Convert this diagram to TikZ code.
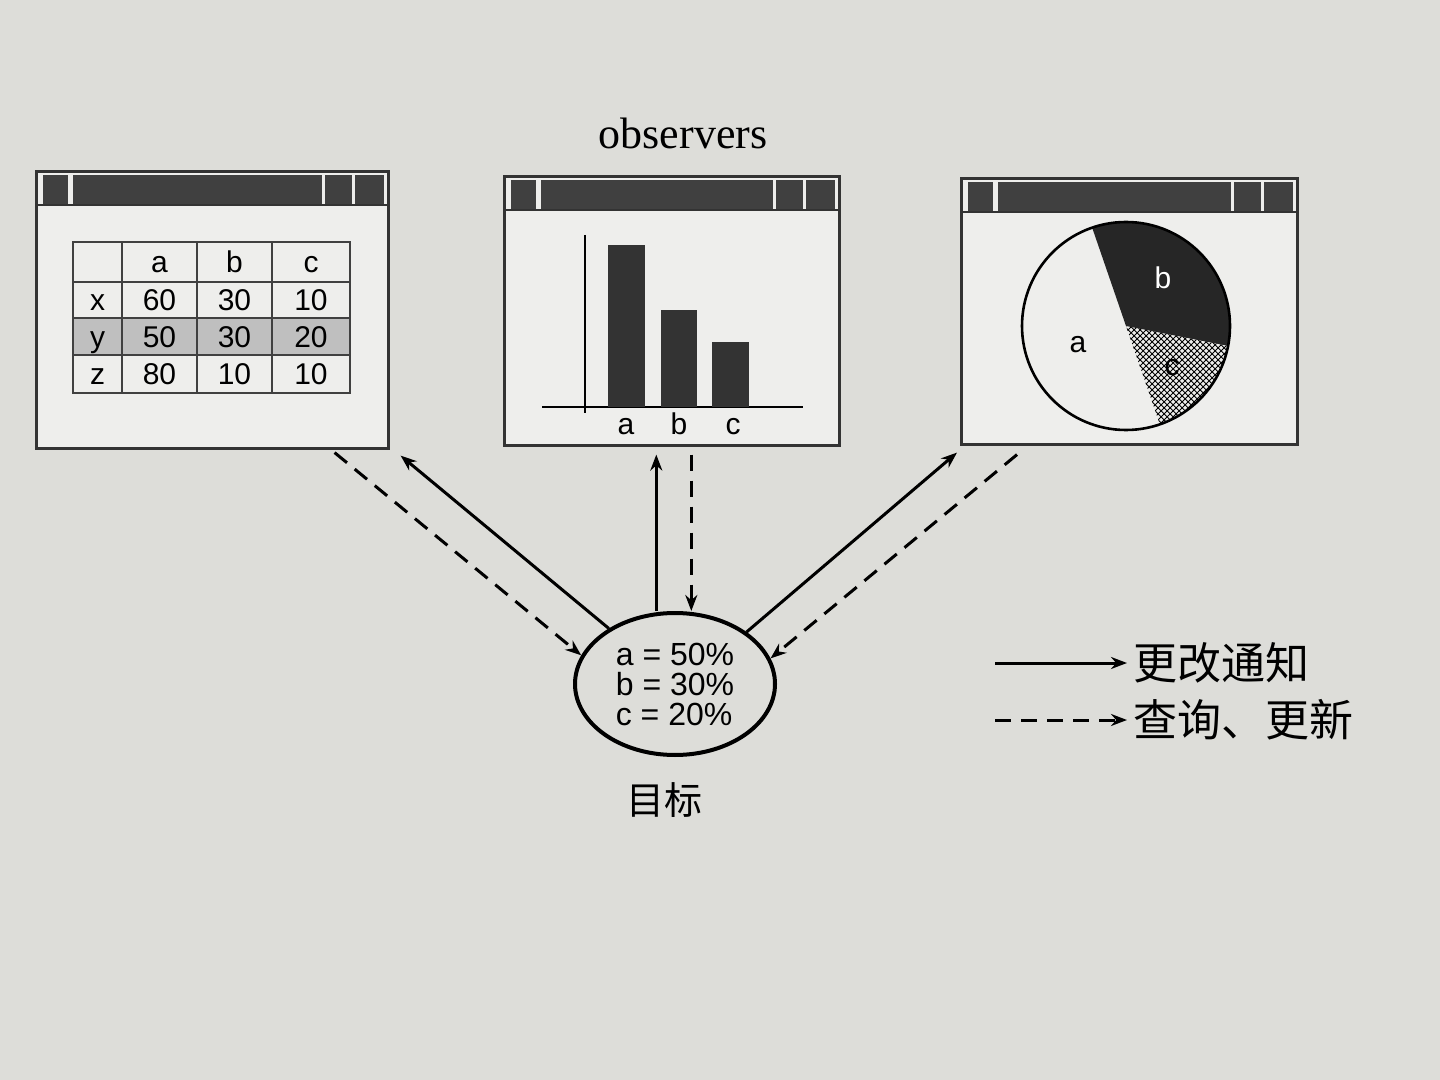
\documentclass[tikz,border=0pt]{standalone}
\usepackage{fontspec}
\setmainfont{Liberation Serif}
\newfontfamily\cjk{Noto Sans CJK SC}
\newfontfamily\winfont{Liberation Sans}
\usetikzlibrary{shapes.geometric, arrows.meta, positioning, patterns, calc}
\definecolor{paper}{RGB}{221,221,217}

\begin{document}
\begin{tikzpicture}[
    x=0.5pt, y=-0.5pt,
    win/.style={rectangle, draw=black!80, line width=1.3pt, fill=white!50!paper, anchor=north west, inner sep=0pt},
    bar/.style={fill=black!75},
    grid/.style={draw=black!75, line width=1pt},
    cell/.style={font=\winfont\fontsize{15}{15}\selectfont, inner sep=0pt, text height=10.8pt, text depth=0pt},
    solidarr/.style={-{Stealth[length=8pt,width=6pt]}, line width=1.5pt},
    dasharr/.style={-{Stealth[length=8pt,width=6pt]}, line width=1.5pt, dash pattern=on 8pt off 5pt},
    legend/.style={font=\cjk\fontsize{22}{22}\selectfont, anchor=west, inner sep=3pt}
]
% page
\fill[paper] (0,0) rectangle (1440,1080);
\useasboundingbox (0,0) rectangle (1440,1080);

% Observer windows
\node[win, minimum width=176pt, minimum height=138.5pt] (tablewin) at (35,170) {};
\node[win, minimum width=167.5pt, minimum height=134.5pt] (barwin) at (503,175) {};
\node[win, minimum width=168pt, minimum height=133pt] (piewin) at (960,177) {};

% Title bars
\foreach \wname/\winw in {tablewin/352, barwin/335, piewin/336} {
  \foreach \a/\b in {8/33, 38/\winw-65, \winw-62/\winw-35, \winw-32/\winw-3}
    \fill[bar] ($(\wname.north west)+(\a,5)$) rectangle ($(\wname.north west)+(\b,35)$);
  \draw[black!80, line width=1.3pt] ($(\wname.north west)+(0,35)$) -- ($(\wname.north east)+(0,35)$);
}

\node[font=\fontsize{22}{22}\selectfont, inner sep=0pt] (obslabel) at (683,133) {observers};

% Table view
\fill[black!25] (73,318) rectangle (350,355);
\draw[grid] (73,242) rectangle (350,393);
\foreach \gx in {122,197,272} \draw[grid] (\gx,242) -- (\gx,393);
\foreach \gy in {282,318,355} \draw[grid] (73,\gy) -- (350,\gy);
\foreach \txt/\cx/\cy [count=\i] in {a/159.5/262, b/234.5/262, c/311/262,
    x/97.5/300, 60/159.5/300, 30/234.5/300, 10/311/300,
    y/97.5/336.5, 50/159.5/336.5, 30/234.5/336.5, 20/311/336.5,
    z/97.5/374, 80/159.5/374, 10/234.5/374, 10/311/374}
  \node[cell] (cell\i) at (\cx,\cy) {\txt};

% Bar chart view
\draw[line width=1pt] (585,235) -- (585,413);
\draw[line width=1pt] (542,407) -- (803,407);
\fill[black!80] (608,245) rectangle (645,407);
\fill[black!80] (661,310) rectangle (697,407);
\fill[black!80] (712,342) rectangle (749,407);
\node[cell] (bara) at (626,424) {a};
\node[cell] (barb) at (679,424) {b};
\node[cell] (barc) at (733,424) {c};

% Pie chart view
\coordinate (piec) at (1126,326);
\fill[black!85] (piec) -- ++(-11:52pt) arc[start angle=-11, end angle=109, radius=52pt] -- cycle;
\fill[pattern=crosshatch] (piec) -- ++(-71:52pt) arc[start angle=-71, end angle=-11, radius=52pt] -- cycle;
\draw[line width=1.3pt] (piec) circle[radius=52pt];
\node[cell] (piea) at (1078,342) {a};
\node[cell, text=white] (pieb) at (1163,278) {b};
\node[cell] (piecl) at (1172,365) {c};

% Subject
\node[ellipse, draw, line width=2pt, minimum width=100pt, minimum height=71pt, inner sep=0pt,
      align=left, font=\winfont\fontsize{16}{15}\selectfont] (target) at (675,684)
      {a = 50\%\\b = 30\%\\c = 20\%};
\node[font=\cjk\fontsize{19}{19}\selectfont, inner sep=0pt] (targetname) at (664,800) {目标};

% Arrows
\coordinate (barin) at ($(barwin.south)+(-15.5,8)$);
\coordinate (barout) at ($(barwin.south)+(19.5,8)$);
\draw[solidarr] (target.140) -- ($(tablewin.south east)+(11,6)$);
\draw[dasharr] ($(tablewin.south east)+(-55,3)$) -- (target.163);
\draw[solidarr] (barin |- target.north) -- (barin);
\draw[dasharr] (barout) -- (barout |- target.north);
\draw[solidarr] (target.36) -- ($(piewin.south west)+(-3,7)$);
\draw[dasharr] ($(piewin.south west)+(57,9)$) -- (target.15);

% Legend
\node[legend] (lgnotify) at (1127,663) {更改通知};
\node[legend] (lgquery) at (1127,720) {查询、更新};
\coordinate (lgsolid) at (995,663);
\coordinate (lgdash) at (995,720);
\draw[solidarr] (lgsolid) -- (lgnotify.west);
\draw[dasharr] (lgdash) -- (lgquery.west);
\end{tikzpicture}
\end{document}
